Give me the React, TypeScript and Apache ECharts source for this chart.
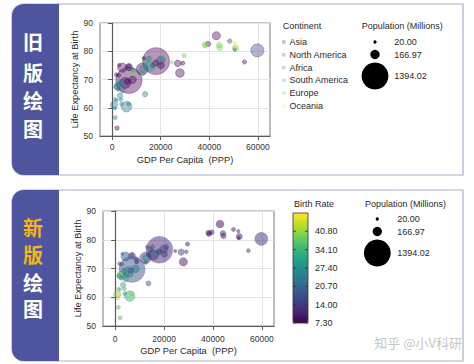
import React, { useEffect, useRef } from "react";
import * as echarts from "echarts";

// ---------------- DATA ----------------
const countries = [
  "China", "India", "United States", "Indonesia", "Pakistan", "Nigeria", "Brazil", "Bangladesh",
  "Russia", "Mexico", "Japan", "Philippines", "Ethiopia", "Egypt", "DR Congo", "Vietnam",
  "Iran", "Turkey", "Germany", "Thailand", "France", "United Kingdom", "Italy", "Tanzania",
  "Myanmar", "South Africa", "Kenya", "South Korea", "Spain", "Colombia", "Sudan", "Argentina",
  "Ukraine", "Uganda", "Algeria", "Iraq", "Poland", "Canada", "Afghanistan", "Morocco",
  "Saudi Arabia", "Malaysia", "Angola", "Peru", "Uzbekistan", "Nepal", "Mozambique", "Yemen",
  "Ghana", "Venezuela", "Cameroon", "Cote d'Ivoire", "Madagascar", "North Korea", "Australia", "Taiwan",
  "Sri Lanka", "Niger", "Romania", "Malawi", "Burkina Faso", "Syria",
];
const continentOf = [
  "Asia", "Asia", "North America", "Asia", "Asia", "Africa", "South America", "Asia",
  "Asia", "North America", "Asia", "Asia", "Africa", "Africa", "Africa", "Asia",
  "Asia", "Asia", "Europe", "Asia", "Europe", "Europe", "Europe", "Africa",
  "Asia", "Africa", "Africa", "Asia", "Europe", "South America", "Africa", "South America",
  "Europe", "Africa", "Africa", "Asia", "Europe", "North America", "Asia", "Africa",
  "Asia", "Asia", "Africa", "South America", "Asia", "Asia", "Africa", "Asia",
  "Africa", "South America", "Africa", "Africa", "Africa", "Asia", "Oceania", "Asia",
  "Asia", "Africa", "Europe", "Africa", "Africa", "Asia",
];
const gdpPerCapita = [
  18100, 6900, 59800, 12400, 5400, 5900, 15600, 4200,
  27900, 19900, 42900, 8400, 2200, 12700, 800, 6900,
  20100, 27000, 50800, 17900, 44100, 44300, 38200, 3200,
  6200, 13600, 3500, 39500, 38400, 14400, 4300, 20900,
  8800, 2400, 15200, 16700, 29600, 48400, 2000, 8600,
  54500, 29100, 6800, 13500, 6900, 2700, 1300, 2500,
  4700, 12500, 3700, 3900, 1600, 1700, 50400, 50500,
  13100, 1200, 24600, 1200, 1900, 2900,
];
const lifeExpectancy = [
  76.5, 69.7, 80.3, 73.7, 68.8, 60.4, 74.7, 74.2,
  72.3, 76.7, 85.5, 69.9, 67.5, 73.7, 61.0, 74.4,
  75.0, 75.7, 81.1, 75.8, 82.2, 81.3, 82.4, 64.3,
  69.2, 64.8, 69.0, 82.6, 82.0, 76.5, 66.1, 77.5,
  72.4, 68.2, 77.5, 75.0, 78.5, 83.6, 52.8, 73.3,
  76.2, 75.8, 61.3, 74.7, 74.8, 71.5, 56.5, 66.6,
  67.7, 72.1, 62.9, 61.3, 67.4, 71.7, 83.0, 80.6,
  77.5, 59.8, 76.1, 63.0, 62.7, 75.1,
];
const populationMillions = [
  1394.02, 1326.09, 332.64, 267.03, 233.5, 214.03, 211.72, 162.65,
  141.72, 128.65, 125.51, 109.18, 108.11, 104.12, 101.78, 98.72,
  84.92, 82.02, 79.9, 68.98, 67.85, 65.76, 62.4, 58.55,
  56.59, 56.46, 53.53, 51.84, 50.02, 49.08, 45.56, 45.48,
  43.92, 43.25, 42.97, 38.87, 38.28, 37.69, 36.64, 35.56,
  34.17, 32.65, 32.52, 31.91, 30.57, 30.33, 30.1, 29.88,
  29.34, 28.64, 27.74, 27.48, 26.96, 25.64, 25.47, 23.6,
  22.89, 22.77, 21.3, 21.2, 20.84, 20.38,
];
const birthRate = [
  11.6, 17.9, 12.4, 15.4, 27.3, 34.2, 13.6, 18.1,
  9.6, 17.6, 7.3, 23.1, 31.6, 27.0, 40.8, 15.3,
  16.0, 14.8, 8.6, 10.7, 11.8, 11.9, 8.4, 34.3,
  17.1, 19.4, 26.6, 8.2, 8.6, 15.3, 33.8, 16.0,
  9.2, 41.8, 20.4, 29.5, 8.7, 10.0, 36.7, 17.7,
  14.8, 14.8, 42.7, 17.4, 16.2, 18.4, 37.5, 27.6,
  29.1, 17.9, 35.6, 28.5, 29.9, 14.4, 12.3, 8.2,
  14.5, 47.5, 8.6, 40.2, 34.7, 23.1,
];

const continents = ["Asia", "North America", "Africa", "South America", "Europe", "Oceania"];
const continentColors = ["#440154", "#414487", "#2a788e", "#22a884", "#7ad151", "#fde725"];
const popLegendValues = [20.0, 166.97, 1394.02];
const popLegendLabels = ["20.00", "166.97", "1394.02"];
const birthRateMin = 7.3;
const birthRateMax = 47.5;
const birthRateTicks = [7.3, 14.0, 20.7, 27.4, 34.1, 40.8];
const birthRateTickLabels = ["7.30", "14.00", "20.70", "27.40", "34.10", "40.80"];
const xTickValues = [0, 20000, 40000, 60000];
const viridis = ["#440154", "#482878", "#3e4989", "#31688e", "#26828e", "#1f9e89", "#35b779", "#6ece58", "#b5de2b", "#fde725"];

const titleOld = ["旧", "版", "绘", "图"];
const titleNew = ["新", "版", "绘", "图"];

// ---------------- HELPERS ----------------
const FONT = "'Liberation Sans', Arial, sans-serif";
const CJK = "'Noto Sans CJK SC', sans-serif";
const bubbleSize = (pop: number) => Math.sqrt(pop) * 0.72;

function hexA(hex: string, a: number) {
  const n = parseInt(hex.slice(1), 16);
  return `rgba(${(n >> 16) & 255},${(n >> 8) & 255},${n & 255},${a})`;
}

function rows(idx: number[]) {
  return idx
    .slice()
    .sort((a, b) => populationMillions[b] - populationMillions[a])
    .map((i) => [gdpPerCapita[i], lifeExpectancy[i], populationMillions[i], birthRate[i], countries[i]]);
}

function axes(gridIndex: number, yNameGap: number, xNameGap: number, xLabelMargin: number) {
  const common = {
    gridIndex,
    type: "value" as const,
    axisLine: { show: true, lineStyle: { color: "#5a5a5a", width: 1.2 } },
    axisTick: { show: true, length: 4, lineStyle: { color: "#5a5a5a", width: 1 } },
    splitLine: { show: true, lineStyle: { color: "#e4e4e4", width: 1 } },
    nameTextStyle: { fontSize: 9.3, color: "#2a2a2a", fontFamily: FONT },
  };
  return {
    x: {
      ...common,
      min: -5000,
      max: 65000,
      splitNumber: 3,
      name: "GDP Per Capita  (PPP)",
      nameLocation: "middle",
      nameGap: xNameGap,
      axisTick: { ...common.axisTick, customValues: xTickValues },
      axisLabel: {
        customValues: xTickValues,
        fontSize: 8.5,
        color: "#333",
        fontFamily: FONT,
        margin: xLabelMargin,
        formatter: (v: number) => String(v),
      },
    },
    y: {
      ...common,
      min: 50,
      max: 90,
      interval: 10,
      name: "Life Expectancy at Birth",
      nameLocation: "middle",
      nameGap: yNameGap,
      axisLabel: { fontSize: 8.5, color: "#333", fontFamily: FONT, margin: 7 },
    },
  };
}

export default function App() {
  const ref = useRef<HTMLDivElement>(null);
  useEffect(() => {
    if (!ref.current) return;
    const chart = echarts.init(ref.current, undefined, { renderer: "svg" });

    const a0 = axes(0, 19, 19, 6);
    const a1 = axes(1, 18, 20.5, 8);

    const topSeries = continents.map((c, ci) => {
      const idx = continentOf.map((v, i) => (v === c ? i : -1)).filter((i) => i >= 0);
      return {
        type: "scatter",
        name: c,
        xAxisIndex: 0,
        yAxisIndex: 0,
        data: rows(idx),
        symbolSize: (v: number[]) => bubbleSize(v[2]),
        itemStyle: {
          color: hexA(continentColors[ci], 0.5),
          borderColor: hexA(continentColors[ci], 0.75),
          borderWidth: 0.6,
        },
      };
    });

    const bottomSeries = {
      type: "scatter",
      name: "Birth Rate",
      xAxisIndex: 1,
      yAxisIndex: 1,
      data: rows(countries.map((_, i) => i)),
      symbolSize: (v: number[]) => bubbleSize(v[2]),
      itemStyle: { opacity: 0.5, borderColor: "rgba(40,20,70,0.45)", borderWidth: 0.6 },
    };

    const cbTop = 213;
    const cbH = 110;
    const cbLeft = 293;
    const cbW = 15;
    const cbY = (v: number) => cbTop + cbH - ((v - birthRateMin) / (birthRateMax - birthRateMin)) * cbH;

    const txt = (text: string, x: number, y: number, extra: any = {}) => ({
      type: "text",
      x,
      y,
      z: 20,
      style: {
        text,
        fill: "#2a2a2a",
        font: `9px ${FONT}`,
        align: "left",
        verticalAlign: "middle",
        textAlign: "left",
        textVerticalAlign: "middle",
        ...extra,
      },
    });

    const graphics: any[] = [];
    // cards
    [4, 190].forEach((y0) => {
      graphics.push({
        type: "rect",
        z: 0,
        shape: { x: 12, y: y0, width: 451, height: 171, r: [12, 0, 0, 12] },
        style: { fill: "transparent", stroke: "#a9adc9", lineWidth: 1.2 },
      });
      graphics.push({
        type: "rect",
        z: 1,
        shape: { x: 12, y: y0, width: 47, height: 171, r: [12, 0, 0, 12] },
        style: { fill: "#4e559e" },
      });
    });
    // banner characters
    const oldY = [41, 72, 100, 128];
    const newY = [227, 254.5, 282, 308.5];
    titleOld.forEach((ch, i) =>
      graphics.push(txt(ch, 33, oldY[i], { font: `bold 20px ${CJK}`, fill: "#ffffff", align: "center", textAlign: "center" }))
    );
    titleNew.forEach((ch, i) =>
      graphics.push(
        txt(ch, 33, newY[i], { font: `bold 20px ${CJK}`, fill: i < 2 ? "#f4b41a" : "#ffffff", align: "center", textAlign: "center" })
      )
    );
    // legend titles
    graphics.push(txt("Continent", 282.7, 26));
    graphics.push(txt("Population (Millions)", 361.7, 26));
    graphics.push(txt("Birth Rate", 294, 204));
    graphics.push(txt("Population (Millions)", 365, 204));
    // population legends
    const popTopY = [42, 54.5, 76];
    const popBotY = [219, 231.5, 253];
    popLegendValues.forEach((p, i) => {
      graphics.push({ type: "circle", z: 20, shape: { cx: 375, cy: popTopY[i], r: bubbleSize(p) / 2 }, style: { fill: "#000" } });
      graphics.push(txt(popLegendLabels[i], 394.3, popTopY[i]));
      graphics.push({ type: "circle", z: 20, shape: { cx: 377.3, cy: popBotY[i], r: bubbleSize(p) / 2 }, style: { fill: "#000" } });
      graphics.push(txt(popLegendLabels[i], 397.3, popBotY[i]));
    });
    // colorbar frame + ticks + labels
    graphics.push({
      type: "rect",
      z: 30,
      shape: { x: cbLeft, y: cbTop, width: cbW, height: cbH },
      style: { fill: "transparent", stroke: "#333", lineWidth: 0.8 },
    });
    birthRateTicks.forEach((v, i) => {
      const y = cbY(v);
      graphics.push({ type: "line", z: 30, shape: { x1: cbLeft, y1: y, x2: cbLeft + 3, y2: y }, style: { stroke: "#333", lineWidth: 0.8 } });
      graphics.push({ type: "line", z: 30, shape: { x1: cbLeft + cbW - 3, y1: y, x2: cbLeft + cbW, y2: y }, style: { stroke: "#333", lineWidth: 0.8 } });
      graphics.push(txt(birthRateTickLabels[i], 315, y));
    });
    // watermark
    graphics.push(txt("知乎 @小V科研", 462, 342, { font: `13px ${CJK}`, fill: "#c6c6c6", align: "right", textAlign: "right" }));

    chart.setOption({
      animation: false,
      backgroundColor: "#ffffff",
      textStyle: { fontFamily: FONT },
      grid: [
        { left: 100, top: 23, width: 170, height: 113, show: true, borderColor: "#8f8f8f", borderWidth: 1.2, backgroundColor: "transparent" },
        { left: 103, top: 211, width: 171, height: 115, show: true, borderColor: "#8f8f8f", borderWidth: 1.2, backgroundColor: "transparent" },
      ],
      xAxis: [a0.x, a1.x],
      yAxis: [a0.y, a1.y],
      legend: {
        data: continents,
        orient: "vertical",
        left: 282,
        top: 37.5,
        padding: 0,
        itemGap: 3.8,
        itemWidth: 3.5,
        itemHeight: 3.5,
        icon: "rect",
        selectedMode: false,
        itemStyle: { borderWidth: 0, opacity: 0.55 },
        textStyle: { fontSize: 9, color: "#2a2a2a", fontFamily: FONT, padding: [0, 0, 0, -1] },
      },
      visualMap: {
        type: "continuous",
        seriesIndex: 6,
        dimension: 3,
        min: birthRateMin,
        max: birthRateMax,
        left: cbLeft,
        top: cbTop,
        itemWidth: cbW,
        itemHeight: cbH,
        padding: 0,
        calculable: false,
        hoverLink: false,
        text: ["", ""],
        textGap: 0,
        inRange: { color: viridis },
      },
      graphic: { elements: graphics },
      series: [...topSeries, bottomSeries],
    });
    return () => chart.dispose();
  }, []);
  return <div ref={ref} style={{ position: "fixed", left: 0, top: 0, width: 474, height: 364 }} />;
}
